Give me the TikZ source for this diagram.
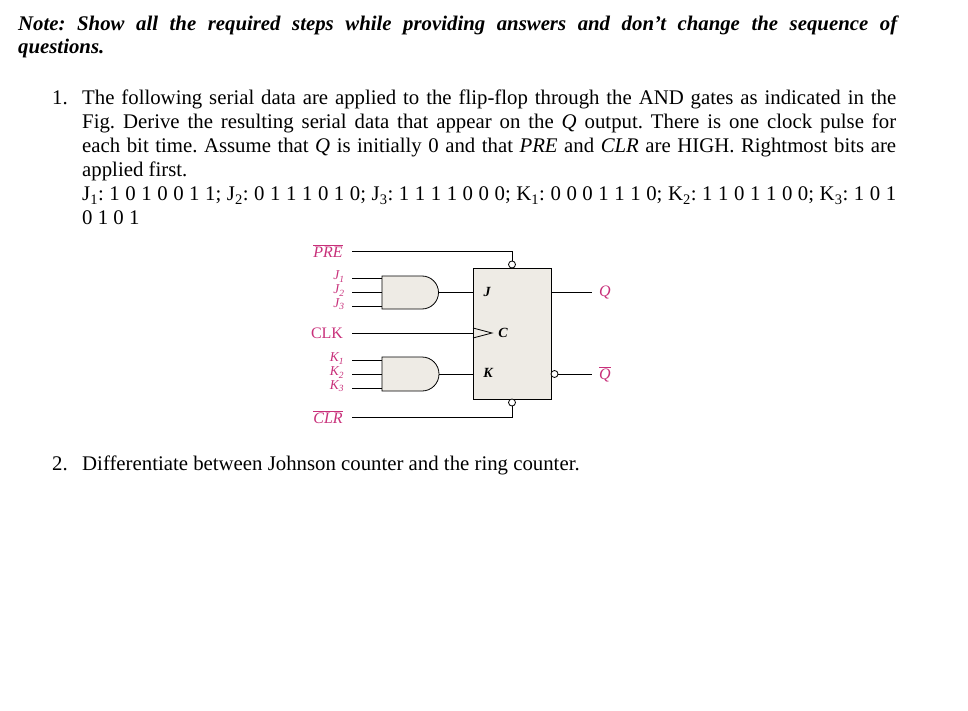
\documentclass[tikz,border=0pt]{standalone}
\usepackage{fontspec}
\setmainfont{Liberation Serif}
\definecolor{lblc}{HTML}{C8307A}
\definecolor{boxc}{HTML}{EEEBE5}
\begin{document}
\frenchspacing
\begin{tikzpicture}[x=1pt,y=-1pt,
  txt/.style={anchor=base west,inner sep=0pt,font=\fontsize{20.8}{24}\selectfont},
  lbl/.style={inner sep=0pt,text=lblc,font=\fontsize{16}{17}\selectfont\itshape},
  slbl/.style={inner sep=0pt,text=lblc,font=\fontsize{13.5}{14}\selectfont\itshape},
  wire/.style={line width=0.8pt},
  bub/.style={circle,draw,line width=0.8pt,inner sep=0pt,minimum size=7pt,fill=white}]
\useasboundingbox (0,0) rectangle (968,711);
\node[txt] (n1) at (18,31) {\makebox[879pt][s]{\bfseries\itshape Note: Show all the required steps while providing answers and don’t change the sequence of}};
\node[txt] (n2) at (18,54) {\bfseries\itshape questions.};
\node[txt] (i1) at (52,105) {1.};
\node[txt] (l1) at (82,105) {\makebox[814pt][s]{The following serial data are applied to the flip-flop through the AND gates as indicated in the}};
\node[txt] (l2) at (82,129) {\makebox[814pt][s]{Fig. Derive the resulting serial data that appear on the \textit{Q} output. There is one clock pulse for}};
\node[txt] (l3) at (82,153) {\makebox[814pt][s]{each bit time. Assume that \textit{Q} is initially 0 and that \textit{PRE} and \textit{CLR} are HIGH. Rightmost bits are}};
\node[txt] (l4) at (82,177) {applied first.};
\node[txt] (l5) at (82,201) {\makebox[814pt][s]{J\textsubscript{1}: 1 0 1 0 0 1 1; J\textsubscript{2}: 0 1 1 1 0 1 0; J\textsubscript{3}: 1 1 1 1 0 0 0; K\textsubscript{1}: 0 0 0 1 1 1 0; K\textsubscript{2}: 1 1 0 1 1 0 0; K\textsubscript{3}: 1 0 1}};
\node[txt] (l6) at (82,225) {0 1 0 1};
\node[txt] (i2) at (52,470) {2.};
\node[txt] (l7) at (82,470) {Differentiate between Johnson counter and the ring counter.};
% flip-flop
\draw[wire,fill=boxc] (473,268) rectangle (551,399);
\node[font=\fontsize{14}{15}\selectfont\itshape\bfseries] (jl) at (487,292) {J};
\node[font=\fontsize{14}{15}\selectfont\itshape\bfseries] (kl) at (488,373) {K};
\node[font=\fontsize{14}{15}\selectfont\itshape\bfseries] (cl) at (503,333) {C};
\draw[wire] (473,328) -- (492,333) -- (473,338);
% gates
\draw[wire,fill=boxc] (382,276) -- (422,276) arc[start angle=-90,end angle=90,radius=16.5] -- (382,309) -- cycle;
\draw[wire,fill=boxc] (382,357) -- (422,357) arc[start angle=-90,end angle=90,radius=17] -- (382,391) -- cycle;
\draw[wire] (438.5,292) -- (473,292);
\draw[wire] (439,374) -- (473,374);
\foreach \y in {278,292,306,360,374,388} \draw[wire] (352,\y) -- (382,\y);
\node[slbl] (j1) at (339,276.5) {J\textsubscript{1}};
\node[slbl] (j2) at (339,290.5) {J\textsubscript{2}};
\node[slbl] (j3) at (339,304.5) {J\textsubscript{3}};
\node[slbl] (k1) at (337,358.5) {K\textsubscript{1}};
\node[slbl] (k2) at (337,372.5) {K\textsubscript{2}};
\node[slbl] (k3) at (337,386.5) {K\textsubscript{3}};
\node[lbl,font=\fontsize{16}{17}\selectfont] (clk) at (327,333) {CLK};
\draw[wire] (352,333) -- (473,333);
\node[lbl] (pre) at (328,251) {$\overline{\mbox{\textit{PRE}}}$};
\node[lbl] (clr) at (328,417) {$\overline{\mbox{\textit{CLR}}}$};
\node[bub] (b1) at (512,264.5) {};
\node[bub] (b2) at (512,402.5) {};
\node[bub] (b3) at (554.5,374) {};
\draw[wire] (352,251) -- (512,251) -- (b1.north);
\draw[wire] (352,417) -- (512,417) -- (b2.south);
\draw[wire] (551,292) -- (592,292);
\draw[wire] (b3.east) -- (592,374);
\node[lbl] (q) at (605,292) {Q};
\node[lbl] (qb) at (605,374) {$\overline{\mbox{\textit{Q}}}$};
\end{tikzpicture}
\end{document}
